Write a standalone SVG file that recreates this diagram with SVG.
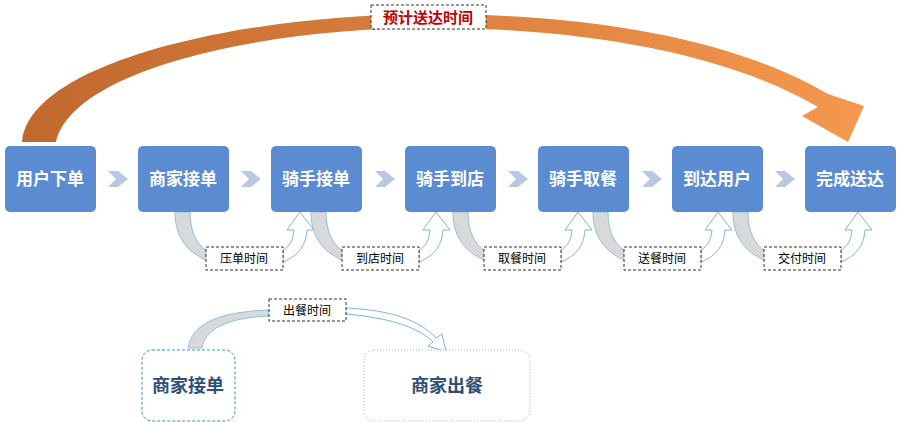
<svg xmlns="http://www.w3.org/2000/svg" width="900" height="422" viewBox="0 0 900 422">
<style>
.n{fill:#5b8bd0;}
.nt{font-family:"Noto Sans CJK SC",sans-serif;font-size:17px;font-weight:bold;fill:#fff;text-anchor:middle;}
.lb{fill:#fff;stroke:#333;stroke-width:1;stroke-dasharray:3,2;}
.lt{font-family:"Noto Sans CJK SC",sans-serif;font-size:12px;fill:#000;text-anchor:middle;}
.ch{fill:#b8c8e0;}
.g{fill:#d9d9d9;stroke:#8ec0e8;stroke-width:1;}
.h{fill:#fff;stroke:#7ab4e4;stroke-width:1;}
.bt{font-family:"Noto Sans CJK SC",sans-serif;font-size:18px;font-weight:bold;fill:#2f5075;text-anchor:middle;}
</style>
<defs>
<linearGradient id="og" x1="0" x2="1" y1="0" y2="0"><stop offset="0" stop-color="#c0682e"/><stop offset="1" stop-color="#f5984e"/></linearGradient>
<g id="u">
<path class="g" d="M175,212 C175,238 188,252 206,260 L206,250 C196,244 190,230 190,212 Z"/>
<path class="h" d="M283,262 C300,255 306,244 307,230 L314,230 L300,212 L287,230 L294,230 C293,240 290,246 283,250 Z"/>
</g>
</defs>
<g id="connectors">
<path fill="url(#og)" d="M22,142 C30,60 250,14 430,14 C620,14 750,48 828,94 L864,106 L848,142 L802,116 L818,107 C735,58 600,28 430,28 C260,28 72,70 56,142 Z"/>
<g class="ch">
<path d="M108,171 L118,171 L128,179 L118,187 L108,187 L116,179 Z"/>
<path d="M241,171 L251,171 L261,179 L251,187 L241,187 L249,179 Z"/>
<path d="M375,171 L385,171 L395,179 L385,187 L375,187 L383,179 Z"/>
<path d="M508,171 L518,171 L528,179 L518,187 L508,187 L516,179 Z"/>
<path d="M642,171 L652,171 L662,179 L652,187 L642,187 L650,179 Z"/>
<path d="M775,171 L785,171 L795,179 L785,187 L775,187 L783,179 Z"/>
</g>
<use href="#u"/>
<use href="#u" transform="translate(136,0)"/>
<use href="#u" transform="translate(278,0)"/>
<use href="#u" transform="translate(418,0)"/>
<use href="#u" transform="translate(558,0)"/>
<path class="g" d="M188,348 C192,325 215,312 269,310 L269,316 C225,318 205,330 202,348 Z"/>
<path class="h" d="M346,308 C390,310 420,320 436,338 L442,334 L446,352 L428,346 L433,342 C418,327 390,318 346,314 Z"/>
</g>
<g id="top-label"><rect class="lb" x="371" y="5" width="115" height="24"/><text x="428" y="23" font-family="Noto Sans CJK SC,sans-serif" font-size="15" font-weight="bold" fill="#c00000" text-anchor="middle">预计送达时间</text></g>
<g id="n1"><rect class="n" x="5" y="146" width="91" height="66" rx="5"/><text class="nt" x="50" y="185">用户下单</text></g>
<g id="n2"><rect class="n" x="138" y="146" width="91" height="66" rx="5"/><text class="nt" x="183" y="185">商家接单</text></g>
<g id="n3"><rect class="n" x="271" y="146" width="91" height="66" rx="5"/><text class="nt" x="316" y="185">骑手接单</text></g>
<g id="n4"><rect class="n" x="405" y="146" width="91" height="66" rx="5"/><text class="nt" x="450" y="185">骑手到店</text></g>
<g id="n5"><rect class="n" x="538" y="146" width="91" height="66" rx="5"/><text class="nt" x="583" y="185">骑手取餐</text></g>
<g id="n6"><rect class="n" x="672" y="146" width="91" height="66" rx="5"/><text class="nt" x="717" y="185">到达用户</text></g>
<g id="n7"><rect class="n" x="805" y="146" width="91" height="66" rx="5"/><text class="nt" x="850" y="185">完成送达</text></g>
<g id="l1"><rect class="lb" x="206" y="247" width="77" height="23"/><text class="lt" x="244" y="263">压单时间</text></g>
<g id="l2"><rect class="lb" x="342" y="247" width="77" height="23"/><text class="lt" x="380" y="263">到店时间</text></g>
<g id="l3"><rect class="lb" x="484" y="247" width="77" height="23"/><text class="lt" x="522" y="263">取餐时间</text></g>
<g id="l4"><rect class="lb" x="624" y="247" width="77" height="23"/><text class="lt" x="662" y="263">送餐时间</text></g>
<g id="l5"><rect class="lb" x="764" y="247" width="77" height="23"/><text class="lt" x="802" y="263">交付时间</text></g>
<g id="l6"><rect class="lb" x="269" y="299" width="77" height="22"/><text class="lt" x="307" y="315">出餐时间</text></g>
<g id="b1"><rect x="142" y="350" width="93" height="71" rx="10" fill="#fff" stroke="#3a8ad0" stroke-dasharray="3,2"/><text class="bt" x="188" y="392">商家接单</text></g>
<g id="b2"><rect x="364" y="350" width="166" height="71" rx="10" fill="#fff" stroke="#7ab8e8" stroke-dasharray="1,2"/><text class="bt" x="447" y="392">商家出餐</text></g>
</svg>
